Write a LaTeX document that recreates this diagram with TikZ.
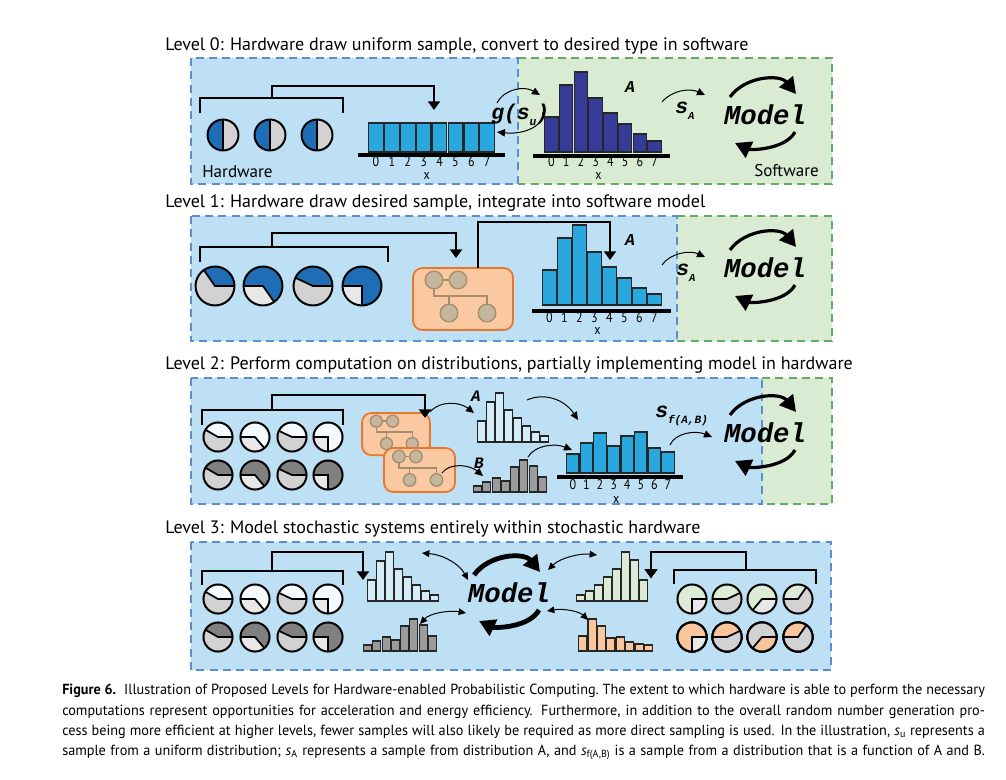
\documentclass[tikz,border=0pt]{standalone}
\usepackage{fontspec}
\setmainfont{PT Sans}
\newfontfamily\titlefont{PT Sans}
\newfontfamily\capfont[FakeStretch=0.97]{PT Sans}
\newfontfamily\tickfont[FakeStretch=0.86]{PT Sans}
\newfontfamily\codefont{Liberation Mono}
\usepackage{xcolor}
\usetikzlibrary{arrows.meta}

\definecolor{hwblue}{HTML}{BEE0F4}
\definecolor{swgreen}{HTML}{D9EBD3}
\definecolor{hwedge}{HTML}{5A8FCB}
\definecolor{swedge}{HTML}{5FAE5F}
\definecolor{bitblue}{HTML}{1F6DB5}
\definecolor{lgrey}{HTML}{D2D2D2}
\definecolor{llgrey}{HTML}{E8E8E8}
\definecolor{dgrey}{HTML}{808080}
\definecolor{barcyan}{HTML}{29A8E0}
\definecolor{barnavy}{HTML}{353B97}
\definecolor{barpale}{HTML}{D4ECF8}
\definecolor{bargrey}{HTML}{9B9B9B}
\definecolor{bargreen}{HTML}{DCEBD5}
\definecolor{barorange}{HTML}{F9C59C}
\definecolor{boxfill}{HTML}{FAC9A2}
\definecolor{boxedge}{HTML}{E8762F}
\definecolor{netfill}{HTML}{C5B69D}
\definecolor{netline}{HTML}{A38D6C}

\tikzset{
  hwline/.style={draw=hwedge,line width=0.9pt,dash pattern=on 6pt off 4pt},
  swline/.style={draw=swedge,line width=0.9pt,dash pattern=on 6pt off 4pt},
  bracket/.style={line width=1.9pt},
  feed/.style={bracket,-{Triangle[length=6.5pt,width=9pt]}},
  curvearrow/.style={line width=0.75pt,-{Triangle[length=6pt,width=5.5pt]}},
  twoway/.style={line width=0.75pt,{Triangle[length=5.5pt,width=5pt]}-{Triangle[length=5.5pt,width=5pt]}},
  loopy/.style={line width=2.4pt,-{Triangle[length=12pt,width=13pt]}},
  histbar/.style={draw=black!85,line width=0.8pt},
  histaxis/.style={line width=3pt},
  ticklabel/.style={font=\tickfont\fontsize{10.5}{11}\selectfont,inner sep=0pt},
  leveltitle/.style={font=\titlefont\fontsize{13.5}{15}\selectfont,anchor=base west,inner sep=0pt},
  sidelabel/.style={font=\fontsize{12.8}{14}\selectfont,inner sep=0pt},
  codetext/.style={font=\codefont\bfseries\itshape,inner sep=0pt},
  modeltext/.style={font=\codefont\bfseries\itshape\fontsize{20.5}{22}\selectfont,inner sep=0pt},
  bayes/.style={fill=boxfill,draw=boxedge,line width=1.3pt,rounded corners=7pt},
  netnode/.style={fill=netfill,draw=netline,line width=1pt},
  netedge/.style={draw=netline,line width=1.1pt},
}

% pie: centre, radius, from, to, wedge colour, rest colour
\newcommand{\pie}[6]{%
  \fill[#6] #1 circle[radius=#2];
  \fill[#5] #1 -- ++(#3:#2) arc[start angle=#3,end angle=#4,radius=#2] -- cycle;
  \draw[line width=1.3pt] #1 ++(#3:#2) -- #1 -- ++(#4:#2);
  \draw[line width=1.5pt] #1 circle[radius=#2];
}
% histogram: left, base, bar width, colour, heights
\newcommand{\hist}[5]{%
  \foreach \h [count=\i from 0] in {#5}
    \draw[histbar,fill=#4] ({#1+\i*#3+0.6},#2) rectangle ({#1+(\i+1)*#3-0.6},{#2-\h});
}
% axis numbers: left, bar width, y digits, y x-label, name
\newcommand{\ticks}[5]{%
  \foreach \d in {0,...,7}
    \node[ticklabel] (#5\d) at ({#1+(\d+0.5)*#2},#3) {\d};
  \node[ticklabel] (#5x) at ({#1+3.7*#2},#4) {x};
}
% bayes net box: shift, scale
\newcommand{\bayesbox}[2]{%
  \begin{scope}[shift={#1},scale=#2]
    \draw[bayes] (0,0) rectangle (100,62);
    \draw[netedge] (21,12) -- (45,12) (21,12) -- (21,28) -- (74,28) -- (74,45) (36,28) -- (36,45);
    \foreach \p in {(21,12),(45,12),(36,45),(74,45)}
      \draw[netnode] \p circle[radius=6.6pt];
  \end{scope}}
% model with its loop: name, centre, line width
\newcommand{\modelloop}[3]{%
  \begin{scope}[shift={#2}]
    \node[modeltext] (#1) at (0,0) {Model};
    \draw[loopy,line width=#3] (-35,-18) .. controls (-20,-39) and (15,-41) .. (31,-21);
    \draw[loopy,line width=#3] (30,17) .. controls (20,35) and (-15,35) .. (-30,28);
  \end{scope}}

\begin{document}
\begin{tikzpicture}[x=0.75pt,y=-0.75pt]
\useasboundingbox (0,0) rectangle (1006,779);

%% Level 0
\node[leveltitle] (t0) at (165,50) {Level 0: Hardware draw uniform sample, convert to desired type in software};
\fill[hwblue] (191,58) rectangle (518,184);
\fill[swgreen] (518,58) rectangle (832,184);
\draw[swline] (518,58) -- (832,58) -- (832,184) -- (518,184);
\draw[hwline] (191,58) rectangle (518,184);
\node[sidelabel,anchor=base west] (hw) at (202,177) {Hardware};
\node[sidelabel,anchor=base east] (sw) at (819,176) {Software};
\draw[bracket] (200,113) -- (200,98) -- (343,98) -- (343,113);
\draw[feed] (272,98) -- (272,86) -- (434,86) -- (434,110);
\foreach \cx in {223,270,317}
  \pie{(\cx,135)}{11.6pt}{90}{270}{bitblue}{lgrey}
\hist{368}{152}{15.9}{barcyan}{29,29,29,29,29,29,29,29}
\draw[histaxis] (358,155) -- (505,155);
\ticks{368}{15.9}{162}{176}{u}
\node[codetext,font=\codefont\bfseries\itshape\fontsize{16}{16}\selectfont,anchor=base west] (gsu) at (491,119) {g(s\raisebox{-5pt}{\fontsize{8.5}{9}\selectfont u})};
\draw[curvearrow] (497,103) .. controls (505,88) and (525,86) .. (540,95);
\draw[curvearrow] (543,112) .. controls (545,125) and (525,135) .. (497,132);
\hist{544}{152}{14.75}{barnavy}{35,67,80,54,39,28,18,11}
\draw[histaxis] (533,156) -- (670,156);
\ticks{544}{14.75}{162}{176}{a}
\node[codetext,font=\codefont\bfseries\itshape\fontsize{12.5}{13}\selectfont] (la0) at (630,87) {A};
\draw[curvearrow] (662,102) .. controls (672,90) and (690,88) .. (705,95);
\node[codetext,font=\codefont\bfseries\itshape\fontsize{16}{16}\selectfont,anchor=base west] (sa0) at (675,113) {s\raisebox{-5pt}{\fontsize{8}{9}\selectfont A}};
\modelloop{m0}{(765,115)}{2.4pt}

%% Level 1
\node[leveltitle] (t1) at (165,207) {Level 1: Hardware draw desired sample, integrate into software model};
\fill[hwblue] (191,216) rectangle (677,341);
\fill[swgreen] (677,216) rectangle (832,341);
\draw[swline] (677,216) -- (832,216) -- (832,341) -- (677,341);
\draw[hwline] (191,216) rectangle (677,341);
\draw[bracket] (200,262) -- (200,247) -- (388,247) -- (388,262);
\draw[feed] (272,247) -- (272,233) -- (456,233) -- (456,258);
\pie{(215,286)}{14.6pt}{0}{125}{bitblue}{lgrey}
\pie{(263,286)}{14.6pt}{-55}{180}{bitblue}{llgrey}
\pie{(313,286)}{14.6pt}{0}{155}{bitblue}{lgrey}
\pie{(362,286)}{14.6pt}{-90}{180}{bitblue}{llgrey}
\bayesbox{(413,268)}{1}
\draw[feed] (478,268) -- (478,222) -- (610,222) -- (610,260);
\hist{542}{305}{15}{barcyan}{35,67,80,53,38,27,17,11}
\draw[histaxis] (532,311) -- (671,311);
\ticks{542}{15}{318}{331}{b}
\node[codetext,font=\codefont\bfseries\itshape\fontsize{12.5}{13}\selectfont] (la1) at (630,240) {A};
\draw[curvearrow] (662,265) .. controls (670,253) and (690,250) .. (705,257);
\node[codetext,font=\codefont\bfseries\itshape\fontsize{16}{16}\selectfont,anchor=base west] (sa1) at (676,275) {s\raisebox{-5pt}{\fontsize{8}{9}\selectfont A}};
\modelloop{m1}{(765,268)}{2.4pt}

%% Level 2
\node[leveltitle] (t2) at (165,369) {Level 2: Perform computation on distributions, partially implementing model in hardware};
\fill[hwblue] (191,378) rectangle (762,504);
\fill[swgreen] (762,378) rectangle (832,504);
\draw[swline] (762,378) -- (832,378) -- (832,504) -- (762,504);
\draw[hwline] (191,378) rectangle (762,504);
\draw[bracket] (202,425) -- (202,410) -- (343,410) -- (343,425);
\foreach \cx/\a/\b/\r in {218/0/150/lgrey,255/-50/180/llgrey,292/0/155/lgrey,328/-90/180/llgrey} {
  \pie{(\cx,437)}{10.9pt}{\a}{\b}{white!75!barpale}{\r}
  \pie{(\cx,475)}{10.9pt}{\a}{\b}{dgrey}{\r}
}
\bayesbox{(362,413)}{0.68}
\bayesbox{(384,448)}{0.71}
\draw[feed] (272,410) -- (272,395) -- (425,395) -- (425,418);
\hist{477}{442}{9}{barpale}{21,40,49,32,24,16,10,6}
\hist{473}{492}{9.25}{bargrey}{6,10,14,11,25,32,26,15}
\node[codetext,font=\codefont\bfseries\itshape\fontsize{12}{13}\selectfont] (la2) at (476,396) {A};
\node[codetext,font=\codefont\bfseries\itshape\fontsize{12}{13}\selectfont] (lb2) at (479,463) {B};
\draw[curvearrow] (430,412) .. controls (440,400) and (460,402) .. (474,413);
\draw[curvearrow] (442,473) .. controls (450,462) and (470,465) .. (483,476);
\draw[curvearrow] (527,400) .. controls (545,392) and (565,400) .. (578,420);
\draw[curvearrow] (528,457) .. controls (535,445) and (555,443) .. (572,450);
\hist{566}{473}{13.6}{barcyan}{19,30,40,27,37,41,25,21}
\draw[histaxis] (557,477) -- (683,477);
\ticks{566}{13.6}{485}{500}{c}
\node[codetext,font=\codefont\bfseries\itshape\fontsize{16}{16}\selectfont,anchor=base west] (sf2) at (655,417) {s\raisebox{-5pt}{\fontsize{8.3}{9}\selectfont f(A,B)}};
\draw[curvearrow] (670,445) .. controls (675,433) and (695,430) .. (712,437);
\modelloop{m2}{(765,433)}{2.4pt}

%% Level 3
\node[leveltitle] (t3) at (165,533) {Level 3: Model stochastic systems entirely within stochastic hardware};
\fill[hwblue] (191,542) rectangle (831,670);
\draw[hwline] (191,542) rectangle (831,670);
\draw[bracket] (202,585) -- (202,571) -- (343,571) -- (343,585);
\foreach \cx/\a/\b/\r in {218/0/150/lgrey,255/-50/180/llgrey,292/0/155/lgrey,328/-90/180/llgrey} {
  \pie{(\cx,599)}{10.9pt}{\a}{\b}{white!75!barpale}{\r}
  \pie{(\cx,637)}{10.9pt}{\a}{\b}{dgrey}{\r}
}
\draw[feed] (272,571) -- (272,552) -- (363,552) -- (363,580);
\hist{367}{601}{9}{barpale}{21,40,49,32,24,16,10,6}
\hist{363}{651}{9.25}{bargrey}{6,10,14,11,25,32,26,15}
\draw[bracket] (674,584) -- (674,570) -- (816,570) -- (816,584);
\foreach \cx/\a/\b/\r in {692/0/270/llgrey,727/25/180/lgrey,762/0/230/llgrey,798/55/180/lgrey}
  \pie{(\cx,599)}{10.9pt}{\a}{\b}{bargreen}{\r}
\pie{(692,637)}{10.9pt}{0}{270}{barorange}{llgrey}
\pie{(727,637)}{10.9pt}{25}{180}{barorange}{lgrey}
\pie{(762,637)}{10.9pt}{0}{230}{lgrey}{barorange}
\pie{(798,637)}{10.9pt}{55}{180}{barorange}{lgrey}
\draw[feed] (746,570) -- (746,552) -- (651,552) -- (651,578);
\hist{576}{601}{9}{bargreen}{6,10,16,24,32,49,41,21}
\hist{578}{651}{9.4}{barorange}{15,32,25,13,14,9,7,6}
\draw[twoway] (422,553) .. controls (445,555) and (460,565) .. (468,580);
\draw[twoway] (420,624) .. controls (430,613) and (450,610) .. (466,613);
\draw[twoway] (548,570) .. controls (560,558) and (580,553) .. (597,555);
\draw[twoway] (547,611) .. controls (565,608) and (580,612) .. (588,620);
\modelloop{m3}{(509,593)}{3.6pt}

%% caption, one box per printed line
\node[anchor=north west,inner sep=0pt,align=left,
  font=\capfont\fontsize{11}{15.2}\selectfont] (cap) at (62,684)
  {\frenchspacing
   \hbox to 692pt{\textbf{Figure 6.}\ \ Illustration of Proposed Levels for Hardware-enabled Probabilistic Computing. The extent to which hardware is able to perform the necessary}\\
   \hbox to 692pt{computations represent opportunities for acceleration and energy efficiency. Furthermore, in addition to the overall random number generation pro-}\\
   \hbox to 692pt{cess being more efficient at higher levels, fewer samples will also likely be required as more direct sampling is used. In the illustration, \textit{s}\textsubscript{u} represents a}\\
   \hbox to 692pt{sample from a uniform distribution; \textit{s}\textsubscript{A} represents a sample from distribution A, and \textit{s}\textsubscript{f(A,B)} is a sample from a distribution that is a function of A and B.}};
\end{tikzpicture}
\end{document}
